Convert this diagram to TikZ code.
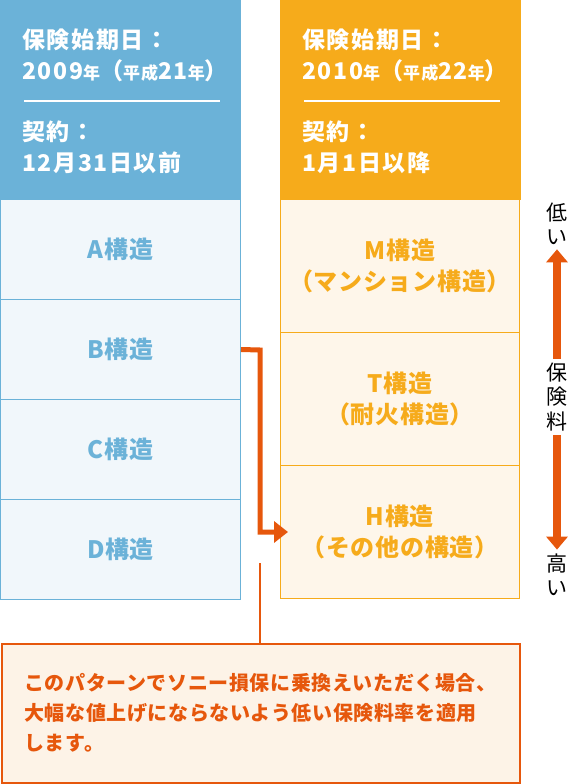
\documentclass[tikz,border=0pt]{standalone}
\usepackage{fontspec}
\setmainfont{Noto Sans CJK JP}
\usepackage{tikz}
\usetikzlibrary{arrows.meta,positioning}
\usepackage{xcolor}
\definecolor{sky}{HTML}{6BB2D8}
\definecolor{skypale}{HTML}{F1F7FB}
\definecolor{amber}{HTML}{F6AB1B}
\definecolor{amberpale}{HTML}{FEF6EA}
\definecolor{rust}{HTML}{E6570C}
\definecolor{rustpale}{HTML}{FDF3E7}
\newcommand{\smtxt}[1]{{\fontsize{17}{17}\selectfont #1}}
\tikzset{
  headbox/.style={rectangle,anchor=north west,inner sep=0pt,
    minimum width=241pt,minimum height=199.5pt},
  headtext/.style={anchor=west,inner sep=0pt,text=white,
    font=\fontsize{23}{26}\selectfont\bfseries\addfontfeature{LetterSpace=7}},
  oldcell/.style={rectangle,draw=sky,fill=skypale,text=sky,line width=1pt,
    minimum width=240pt,minimum height=100pt,inner sep=0pt,
    font=\fontsize{24}{31}\selectfont\bfseries\addfontfeature{LetterSpace=3}},
  newcell/.style={oldcell,draw=amber,fill=amberpale,text=amber,
    minimum width=239pt,minimum height=133pt,align=center},
  scaletext/.style={inner sep=4pt,align=center,text=black,
    font=\fontsize{21}{24.5}\selectfont},
  flowarrow/.style={-{Triangle[length=14pt,width=21pt]},line width=5pt,color=rust},
  scalearrow/.style={-{Triangle[length=13pt,width=21pt]},line width=8pt,color=rust},
  leadline/.style={line width=2pt,color=rust},
  notebox/.style={rectangle,draw=rust,fill=rustpale,line width=2pt,text=rust,
    minimum width=518pt,minimum height=139pt,align=left,
    font=\fontsize{20}{30}\selectfont\bfseries\addfontfeature{LetterSpace=3}},
}
\begin{document}
\begin{tikzpicture}[x=1pt,y=-1pt]
  \useasboundingbox (0,0) rectangle (568,784);

  % headers
  \node[headbox,fill=sky] (headA) at (0,0) {};
  \node[headbox,fill=amber] (headB) at (280,0) {};
  \node[headtext] (startA) at (22,40) {保険始期日：};
  \node[headtext] (yearA) at (22,71) {2009\smtxt{年}（\smtxt{平成}21\smtxt{年}）};
  \node[headtext] (signA) at (22,132) {契約：};
  \node[headtext] (dateA) at (22,163) {12月31日以前};
  \node[headtext] (startB) at (302,40) {保険始期日：};
  \node[headtext] (yearB) at (302,71) {2010\smtxt{年}（\smtxt{平成}22\smtxt{年}）};
  \node[headtext] (signB) at (302,132) {契約：};
  \node[headtext] (dateB) at (302,163) {1月1日以降};
  \draw[white,line width=1.5pt] (24,101) -- (220,101);
  \draw[white,line width=1.5pt] (304,101) -- (500,101);

  % structure cells
  \node[oldcell] (ca) at (120.5,249.5) {A構造};
  \node[oldcell] (cb) at (120.5,349.5) {B構造};
  \node[oldcell] (cc) at (120.5,449.5) {C構造};
  \node[oldcell] (cd) at (120.5,549.5) {D構造};
  \node[newcell] (cm) at (400,265.7) {M構造\\（マンション構造）};
  \node[newcell] (ct) at (400,398.5) {T構造\\（耐火構造）};
  \node[newcell] (ch) at (400,531.5) {H構造\\（その他の構造）};

  \coordinate (turn) at (260,350);
  \coordinate (tip) at (288,532);
  \draw[flowarrow] (cb.east) -- (turn) |- (tip);

  % note
  \node[notebox] (note) at (260.5,713) {このパターンでソニー損保に乗換えいただく場合、\\
    大幅な値上げにならないよう低い保険料率を適用\\します。};
  \coordinate (lead) at (260,563);
  \draw[leadline] (lead) -- (lead |- note.north);

  % premium scale
  \node[scaletext] (low) at (557,224) {低\\い};
  \node[scaletext] (fee) at (557,397) {保\\険\\料};
  \node[scaletext] (high) at (557,575) {高\\い};
  \draw[scalearrow] (fee.north) -- (low.south);
  \draw[scalearrow] (fee.south) -- (high.north);
\end{tikzpicture}
\end{document}
